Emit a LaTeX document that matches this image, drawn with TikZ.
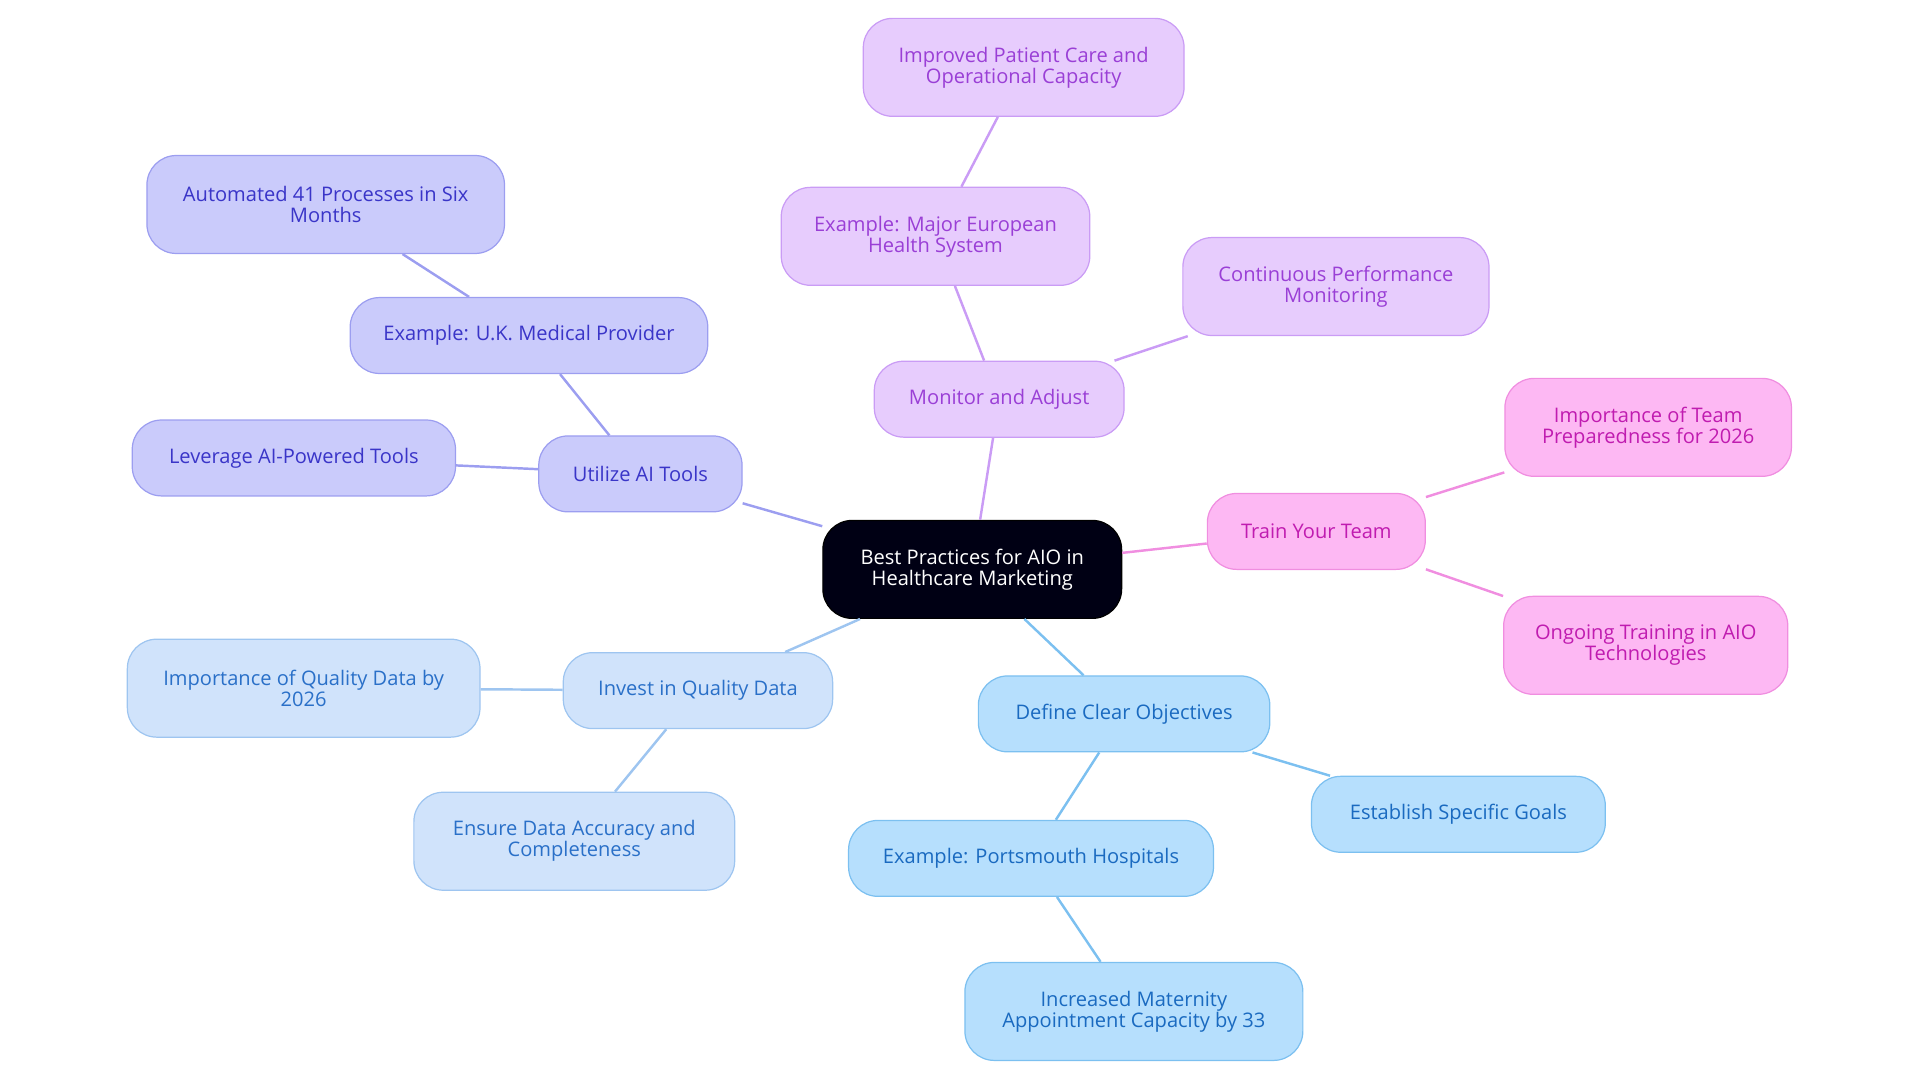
\documentclass[tikz,border=0pt]{standalone}
\usepackage{fontspec}
\setmainfont{Open Sans}
\begin{document}
\begin{tikzpicture}[x=0.5pt,y=-0.5pt,
 box/.style={draw,rounded corners=12pt,align=center,font=\fontsize{8.2}{8.6}\selectfont,inner sep=0pt,line width=0.5pt},
 cA/.style={box,fill=cAf,draw=cAd,text=cAt},
 cM/.style={box,fill=cMf,draw=cMd,text=cMt},
 cT/.style={box,fill=cTf,draw=cTd,text=cTt},
 cD/.style={box,fill=cDf,draw=cDd,text=cDt},
 cI/.style={box,fill=cIf,draw=cId,text=cIt},
 ln/.style={line width=1pt}]
\definecolor{cAf}{HTML}{CACBFB}\definecolor{cAd}{HTML}{9C9EF0}\definecolor{cAt}{HTML}{3A35C8}
\definecolor{cMf}{HTML}{E7CCFD}\definecolor{cMd}{HTML}{CA9CF5}\definecolor{cMt}{HTML}{9A3FD6}
\definecolor{cTf}{HTML}{FDB8F3}\definecolor{cTd}{HTML}{F08EE0}\definecolor{cTt}{HTML}{C01CB0}
\definecolor{cDf}{HTML}{B6DFFD}\definecolor{cDd}{HTML}{7CC0F0}\definecolor{cDt}{HTML}{1A6AC0}
\definecolor{cIf}{HTML}{D0E3FB}\definecolor{cId}{HTML}{9EC5F0}\definecolor{cIt}{HTML}{2A70C8}
\useasboundingbox (0,0) rectangle (1568,884);
\def\bx(#1,#2)#3#4{}
% central
\node[box,fill=black!92!blue,draw=black,text=white,minimum width=122pt,minimum height=40pt] (c) at (794,465) {Best Practices for AIO in\\Healthcare Marketing};
% A
\node[cA,minimum width=83pt,minimum height=31pt] (a) at (523,387) {Utilize AI Tools};
\node[cA,minimum width=146pt,minimum height=31pt] (a1) at (432,274) {Example: U.K. Medical Provider};
\node[cA,minimum width=146pt,minimum height=40pt] (a2) at (266,167) {Automated 41 Processes in Six\\Months};
\node[cA,minimum width=132pt,minimum height=31pt] (a3) at (240,374) {Leverage AI-Powered Tools};
% M
\node[cM,minimum width=102pt,minimum height=31pt] (m) at (816,326) {Monitor and Adjust};
\node[cM,minimum width=126pt,minimum height=40pt] (m1) at (764,193) {Example: Major European\\Health System};
\node[cM,minimum width=131pt,minimum height=40pt] (m2) at (836,55) {Improved Patient Care and\\Operational Capacity};
\node[cM,minimum width=125pt,minimum height=40pt] (m3) at (1091,234) {Continuous Performance\\Monitoring};
% T
\node[cT,minimum width=89pt,minimum height=31pt] (t) at (1075,434) {Train Your Team};
\node[cT,minimum width=117pt,minimum height=40pt] (t1) at (1346,349) {Importance of Team\\Preparedness for 2026};
\node[cT,minimum width=116pt,minimum height=40pt] (t2) at (1344,527) {Ongoing Training in AIO\\Technologies};
% D
\node[cD,minimum width=119pt,minimum height=31pt] (d) at (918,583) {Define Clear Objectives};
\node[cD,minimum width=120pt,minimum height=31pt] (d1) at (1191,665) {Establish Specific Goals};
\node[cD,minimum width=149pt,minimum height=31pt] (d2) at (842,701) {Example: Portsmouth Hospitals};
\node[cD,minimum width=138pt,minimum height=40pt] (d3) at (926,826) {Increased Maternity\\Appointment Capacity by 33};
% I
\node[cI,minimum width=110pt,minimum height=31pt] (i) at (570,564) {Invest in Quality Data};
\node[cI,minimum width=144pt,minimum height=40pt] (i1) at (248,562) {Importance of Quality Data by\\2026};
\node[cI,minimum width=131pt,minimum height=40pt] (i2) at (469,687) {Ensure Data Accuracy and\\Completeness};
\begin{scope}[on background layer/.try]
\end{scope}
\draw[ln,draw=cAd] (c) -- (a); \draw[ln,draw=cAd] (a) -- (a1); \draw[ln,draw=cAd] (a1) -- (a2); \draw[ln,draw=cAd] (a) -- (a3);
\draw[ln,draw=cMd] (c) -- (m); \draw[ln,draw=cMd] (m) -- (m1); \draw[ln,draw=cMd] (m1) -- (m2); \draw[ln,draw=cMd] (m) -- (m3);
\draw[ln,draw=cTd] (c) -- (t); \draw[ln,draw=cTd] (t) -- (t1); \draw[ln,draw=cTd] (t) -- (t2);
\draw[ln,draw=cDd] (c) -- (d); \draw[ln,draw=cDd] (d) -- (d1); \draw[ln,draw=cDd] (d) -- (d2); \draw[ln,draw=cDd] (d2) -- (d3);
\draw[ln,draw=cId] (c) -- (i); \draw[ln,draw=cId] (i) -- (i1); \draw[ln,draw=cId] (i) -- (i2);
\end{tikzpicture}
\end{document}
